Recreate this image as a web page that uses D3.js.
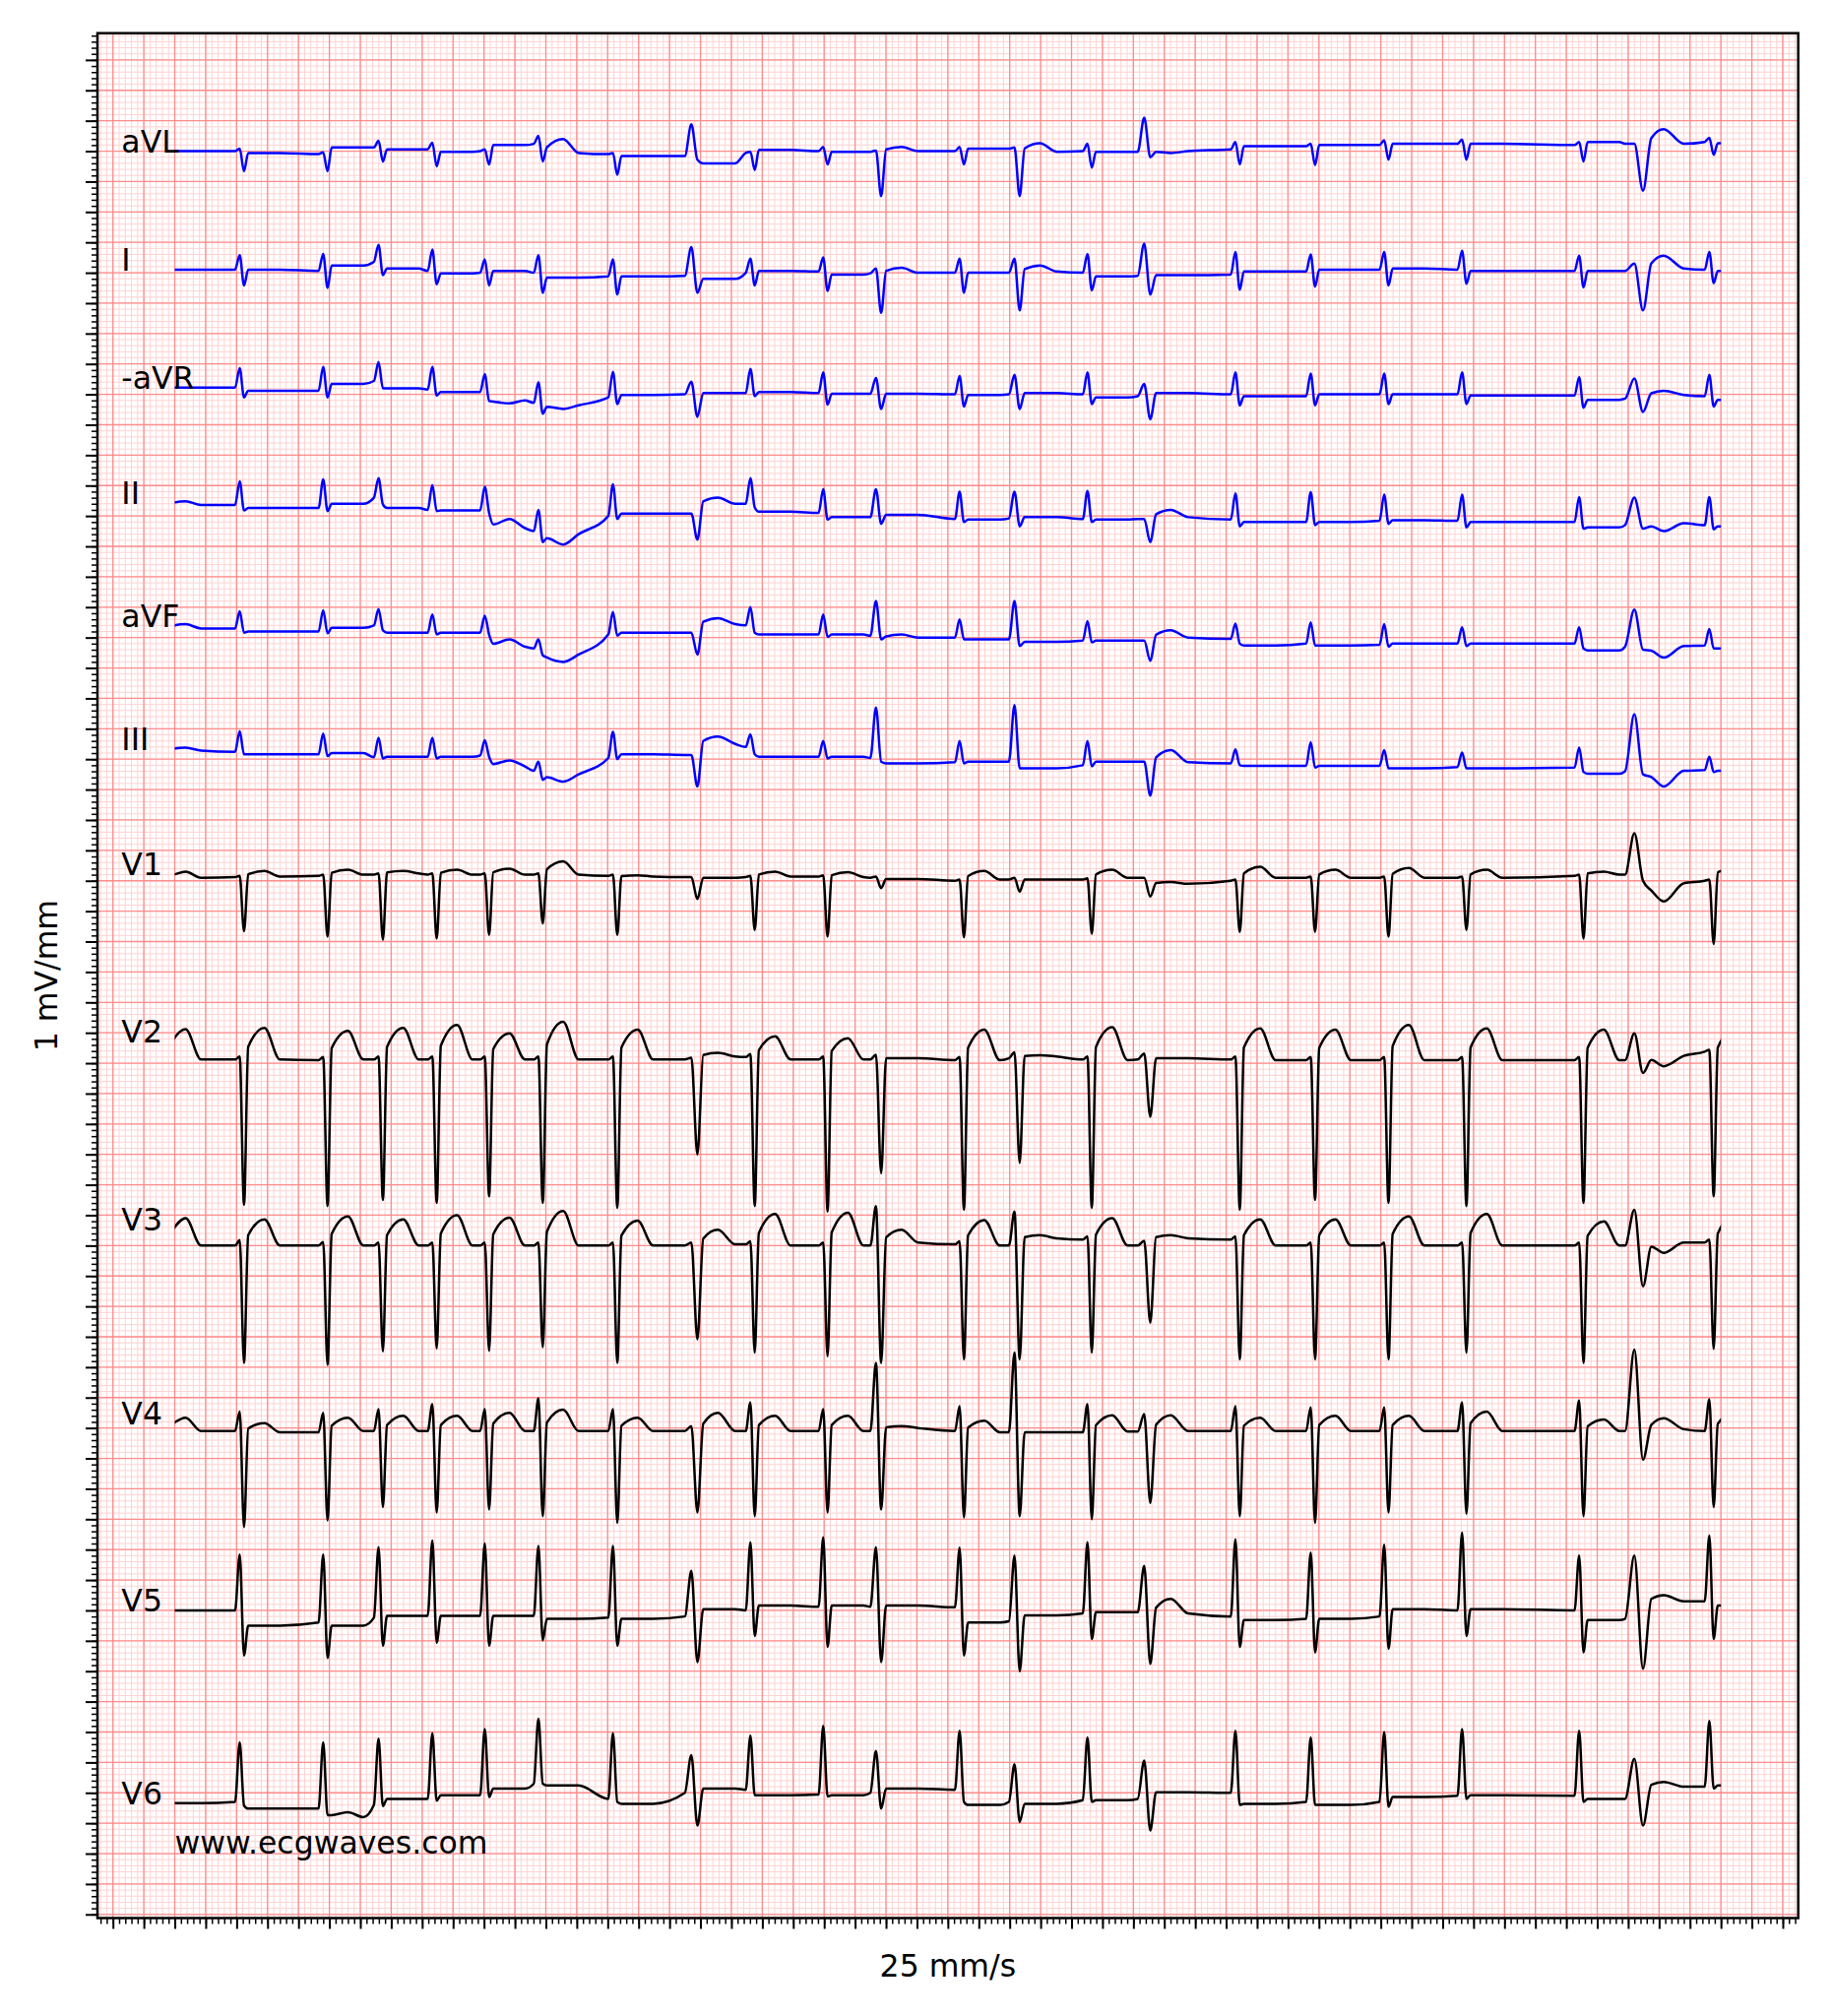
<!DOCTYPE html>
<html>
<head>
<meta charset="utf-8">
<script src="https://cdn.jsdelivr.net/npm/d3@7"></script>
<style>
  body { margin: 0; background: #fff; }
  text { font-family: "DejaVu Sans", sans-serif; fill: #000; }
</style>
</head>
<body>
<div id="chart"></div>
<script>
const beatTimes = [-0.09, 0.42, 0.96, 1.318, 1.666, 2.005, 2.352, 2.834, 3.341, 3.723, 4.194,
  4.535, 5.076, 5.431, 5.903, 6.27, 6.86, 7.347, 7.822, 8.326, 9.083, 9.44, 9.925];
// QRS width factor per beat (aberrant and ventricular beats are wider)
const beatWidths = [1, 1, 1, 1, 1, 1, 1, 1, 1.4, 1, 1, 1.2, 1, 1.2, 1, 1.4, 1, 1, 1, 1, 1, 2, 1];

const leadNames = ['aVL', 'I', '-aVR', 'II', 'aVF', 'III', 'V1', 'V2', 'V3', 'V4', 'V5', 'V6'];

// per beat: [baseline before, R, S, T, baseline after] in mV
const beatsAVL = [[0,0,0,0,0],[0,0.04,-0.33,0,-0.03],[-0.05,0.03,-0.28,0,0.06],[0.06,0.11,-0.23,0,0.03],
  [0.03,0.11,-0.28,0,-0.01],[0,0.03,-0.22,0,0.1],[0.12,0.13,-0.29,0.23,-0.03],[-0.05,0.02,-0.34,0,-0.08],
  [-0.08,0.52,-0.06,0,-0.2],[-0.03,0.02,-0.28,0,0.02],[0,0.07,-0.22,0,-0.01],[-0.01,0.02,-0.73,0.07,0],
  [0,0.07,-0.22,0,0.04],[0.04,0.02,-0.78,0.14,-0.01],[0,0.12,-0.27,0,-0.01],[-0.01,0.56,-0.09,-0.03,0],
  [0.03,0.12,-0.25,0,0.08],[0.08,0.04,-0.31,0,0.1],[0.1,0.08,-0.24,0,0.12],[0.12,0.07,-0.26,0,0.12],
  [0.1,0.05,-0.27,0,0.15],[0.12,0,-0.77,0.24,0.12],[0.15,0.07,-0.21,0,0.13]];
const beatsI = [[0.05,0,0,0,0.05],[0.05,0.24,-0.26,0,0.05],[0.03,0.28,-0.28,0,0.12],[0.18,0.28,-0.22,0,0.07],
  [0.03,0.35,-0.22,0,-0.01],[0,0.22,-0.21,0,0.03],[0,0.29,-0.33,0,-0.08],[-0.06,0.28,-0.3,0,-0.06],
  [-0.05,0.47,-0.28,0,-0.1],[0,0.23,-0.21,0,0.03],[0.02,0.23,-0.32,0,-0.03],[-0.01,0.08,-0.65,0.08,0],
  [0,0.23,-0.33,0,0],[0,0.23,-0.62,0.1,0.02],[0,0.31,-0.29,0,-0.06],[-0.05,0.53,-0.31,0,-0.04],
  [-0.03,0.37,-0.25,0,0.02],[0.02,0.28,-0.25,0,0.05],[0.05,0.29,-0.26,0,0.07],[0.05,0.31,-0.23,0,0.03],
  [0.03,0.25,-0.27,0,0.03],[0.03,0.12,-0.65,0.21,0.07],[0.05,0.29,-0.22,0,0.03]];
const beatsNegAVR = [[0.12,0,0,0,0.11],[0.11,0.32,-0.16,0,0.06],[0.06,0.39,-0.11,0,0.17],[0.22,0.31,-0.12,0,0.1],
  [0.08,0.37,-0.1,0,0.04],[0.04,0.29,-0.15,-0.05,-0.1],[-0.14,0.34,-0.18,-0.06,-0.18],[-0.05,0.42,-0.11,0,-0.01],
  [0,0.21,-0.37,0,0.02],[0.02,0.4,-0.05,0,0.04],[0.02,0.34,-0.19,0,0.01],[0.01,0.26,-0.25,0,0.01],
  [0,0.3,-0.2,0,-0.01],[0,0.32,-0.24,0,0.02],[0,0.36,-0.16,0,-0.05],[-0.03,0.2,-0.38,0,0.02],
  [0,0.36,-0.18,0,-0.03],[-0.03,0.37,-0.15,0,0],[0,0.34,-0.16,0,0],[0,0.36,-0.16,0,-0.02],
  [-0.02,0.3,-0.2,0,-0.09],[-0.07,0.33,-0.22,0.07,-0.01],[-0.03,0.35,-0.17,0,-0.09]];
const beatsII = [[0.13,0,0,0.06,0.18],[0.18,0.39,-0.09,0,0.13],[0.13,0.47,-0.05,0,0.2],[0.3,0.32,-0.11,0,0.13],
  [0.1,0.41,-0.02,0,0.09],[0.09,0.39,-0.04,0.15,-0.2],[-0.25,0.35,-0.18,-0.17,-0.3],[0,0.52,-0.05,0,0.04],
  [0.04,0,-0.43,0.1,0.2],[0.2,0.42,-0.06,0,0.07],[0.05,0.39,-0.11,0,-0.02],[-0.02,0.46,-0.11,0,0.02],
  [-0.05,0.45,-0.05,0,-0.06],[-0.04,0.44,-0.13,0,-0.02],[-0.05,0.46,-0.05,0,-0.06],[-0.05,0,-0.38,0.12,-0.02],
  [-0.06,0.43,-0.11,0,-0.1],[-0.1,0.49,-0.05,0,-0.1],[-0.08,0.43,-0.05,0,-0.07],[-0.08,0.43,-0.11,0,-0.1],
  [-0.1,0.41,-0.11,0,-0.19],[-0.15,0.45,-0.06,-0.13,-0.12],[-0.15,0.46,-0.07,0,-0.17]];
const beatsAVF = [[0.12,0,0,0.07,0.15],[0.15,0.28,-0.07,0,0.1],[0.1,0.35,-0.03,0,0.16],[0.2,0.27,-0.08,0,0.08],
  [0.08,0.3,-0.03,0,0.08],[0.08,0.28,-0.03,0.12,-0.15],[-0.18,0.15,-0.11,-0.12,-0.28],[0.05,0.37,-0.02,0,0.08],
  [0.08,0,-0.36,0.1,0.22],[0.2,0.3,-0.12,0,0.05],[0.05,0.33,-0.04,0,0.05],[0.03,0.57,-0.06,0.05,0],
  [0,0.3,-0.03,0,-0.03],[-0.03,0.63,-0.11,0,-0.07],[-0.05,0.32,-0.03,0,-0.05],[-0.05,0,-0.33,0.12,0],
  [-0.02,0.25,-0.08,0,-0.13],[-0.1,0.35,-0.03,0,-0.13],[-0.12,0.34,-0.03,0,-0.1],[-0.1,0.27,-0.04,0,-0.1],
  [-0.1,0.27,-0.08,0,-0.21],[-0.15,0.61,-0.05,-0.19,-0.14],[-0.13,0.27,-0.05,0,-0.18]];
const beatsIII = [[0.11,0,0,0.05,0.14],[0.12,0.34,-0.04,0,0.08],[0.08,0.34,-0.03,0,0.1],[0.03,0.32,-0.02,0,0.04],
  [0.04,0.31,-0.03,0,0.04],[0.06,0.25,-0.02,0.1,-0.12],[-0.19,0.15,-0.15,-0.12,-0.25],[0.02,0.43,-0.02,0,0.08],
  [0.07,0,-0.52,0.12,0.25],[0.2,0.21,-0.12,0,0.04],[0.04,0.26,-0.03,0,0.04],[0.02,0.83,-0.06,0,-0.07],
  [-0.05,0.35,-0.02,0,-0.04],[-0.04,0.93,-0.11,0,-0.15],[-0.1,0.4,-0.02,0,-0.04],[-0.04,0,-0.56,0.2,-0.05],
  [-0.07,0.23,-0.03,0,-0.11],[-0.11,0.39,-0.03,0,-0.11],[-0.11,0.26,-0.04,0,-0.15],[-0.13,0.24,-0.02,0,-0.15],
  [-0.14,0.33,-0.07,0,-0.24],[-0.2,0.94,-0.05,-0.26,-0.19],[-0.18,0.22,-0.03,0,-0.19]];
const beatsV1 = [[0.12,0,0,0.1,0.05],[0.06,0.02,-0.89,0.09,0.07],[0.08,0.02,-1,0.08,0.1],[0.1,0.02,-1.07,0.04,0.12],
  [0.1,0.02,-1.05,0.08,0.1],[0.1,0.02,-0.99,0.1,0.1],[0.1,0.02,-0.8,0.22,0.1],[0.08,0.02,-0.97,0.02,0.07],
  [0.06,0,-0.36,0,0.05],[0.06,0.02,-0.87,0.08,0.07],[0.07,0.02,-0.99,0.08,0.06],[0.05,0.02,-0.17,0,0.03],
  [0,0.02,-0.93,0.14,0.02],[0.02,0.03,-0.2,0,0.02],[0.02,0.02,-0.89,0.13,0.05],[0.05,0,-0.31,0.03,-0.05],
  [0,0.02,-0.84,0.18,0.05],[0.05,0.02,-0.89,0.13,0.05],[0.05,0.02,-0.97,0.16,0.05],[0.05,0.02,-0.86,0.13,0.05],
  [0.08,0.02,-1.03,0.05,0.1],[0.1,0.68,-0.1,-0.3,-0.04],[0,0.02,-1.04,0.1,0.1]];
const beatsV2 = [[0.1,0,0,0.5,0.06],[0.06,0.05,-2.39,0.52,0.06],[0.05,0.05,-2.4,0.47,0.06],[0.06,0.05,-2.31,0.52,0.06],
  [0.06,0.05,-2.36,0.57,0.06],[0.06,0.05,-2.25,0.43,0.06],[0.06,0.05,-2.36,0.62,0.06],[0.06,0.05,-2.44,0.49,0.06],
  [0.06,0.03,-1.56,0.06,0.11],[0.1,0.05,-2.45,0.38,0.06],[0.06,0.05,-2.5,0.35,0.06],[0.06,0.08,-1.87,0,0.08],
  [0.05,0.05,-2.46,0.5,0.05],[0.08,0.1,-1.72,0.02,0.11],[0.06,0.05,-2.44,0.54,0.05],[0.06,0.1,-0.94,0,0.08],
  [0.06,0.05,-2.47,0.52,0.05],[0.05,0.05,-2.3,0.5,0.05],[0.05,0.05,-2.35,0.58,0.05],[0.05,0.05,-2.4,0.52,0.05],
  [0.05,0.05,-2.35,0.5,0.05],[0.05,0.44,-0.21,-0.17,0.12],[0.19,0.03,-2.38,0.5,0.06]];
const beatsV3 = [[0.08,0,0,0.45,0],[0,0.09,-1.93,0.43,0],[0,0.06,-1.96,0.48,0],[0,0.05,-1.74,0.43,0],
  [0,0.05,-1.69,0.5,0],[0,0.05,-1.73,0.46,0],[0,0.05,-1.67,0.57,0],[0,0.05,-1.93,0.41,0],
  [0,0.05,-1.54,0.24,0.02],[0.02,0.05,-1.78,0.52,0],[0,0.05,-1.82,0.54,0],[0,0.65,-1.93,0.21,0.05],
  [0.02,0.05,-1.89,0.42,0],[0,0.56,-1.87,0.05,0.12],[0.1,0.05,-1.86,0.45,0],[0,0.08,-1.27,0.05,0.12],
  [0.1,0.05,-1.97,0.43,0],[0,0.05,-1.87,0.43,0],[0,0.05,-1.87,0.48,0],[0,0.05,-1.76,0.52,0],
  [0,0.05,-1.93,0.4,0],[0,0.59,-0.67,-0.17,0.05],[0.05,0.05,-1.75,0.5,0]];
const beatsV4 = [[0,0,0,0.22,-0.05],[-0.05,0.32,-1.58,0.15,-0.07],[-0.07,0.32,-1.45,0.22,-0.05],[-0.05,0.36,-1.25,0.25,-0.05],
  [-0.05,0.44,-1.34,0.25,-0.05],[-0.05,0.36,-1.29,0.3,-0.05],[-0.05,0.54,-1.4,0.35,-0.05],[-0.05,0.36,-1.51,0.22,-0.05],
  [-0.05,0.08,-1.34,0.3,-0.05],[-0.05,0.47,-1.4,0.25,-0.05],[-0.05,0.36,-1.34,0.25,-0.05],[-0.05,1.12,-1.29,0.03,0],
  [-0.05,0.41,-1.42,0.19,-0.07],[-0.07,1.31,-1.38,0,-0.07],[-0.07,0.46,-1.43,0.27,-0.06],[-0.06,0.29,-1.17,0.26,-0.05],
  [-0.05,0.41,-1.4,0.22,-0.05],[-0.05,0.39,-1.51,0.25,-0.05],[-0.05,0.39,-1.34,0.25,-0.05],[-0.05,0.47,-1.36,0.32,-0.05],
  [-0.05,0.5,-1.4,0.19,-0.05],[-0.05,1.34,-0.47,0.18,-0.02],[-0.05,0.52,-1.25,0.3,-0.05]];
const beatsV5 = [[0,0,0,0,0],[0,0.92,-0.74,0,-0.25],[-0.2,1.12,-0.58,0,-0.25],[-0.12,1.16,-0.46,0,-0.09],
  [-0.09,1.24,-0.44,0,-0.09],[-0.09,1.19,-0.49,0,-0.09],[-0.09,1.15,-0.4,0,-0.14],[-0.12,1.18,-0.46,0,-0.14],
  [-0.1,0.75,-0.75,0,0.02],[0,1.12,-0.42,0,0.08],[0.06,1.14,-0.66,0,0.08],[0.06,0.98,-0.91,0,0.08],
  [0.05,0.98,-0.79,0,-0.2],[-0.18,1.08,-0.82,0,-0.08],[-0.05,1.17,-0.42,0,-0.03],[-0.03,0.76,-0.85,0.24,-0.05],
  [-0.1,1.27,-0.5,0,-0.16],[-0.14,1.09,-0.55,0,-0.14],[-0.1,1.18,-0.53,0,0.02],[0,1.28,-0.42,0,0.02],
  [0,0.9,-0.69,0,-0.16],[-0.14,1.04,-0.82,0.1,0.15],[0.15,1.08,-0.62,0,0.08]];
const beatsV6 = [[-0.24,0,0,0,-0.17],[-0.15,0.98,-0.06,0,-0.26],[-0.26,1.09,-0.11,0.08,-0.4],[-0.2,1.09,-0.02,0,-0.1],
  [-0.1,1.08,-0.03,0,-0.04],[-0.04,1.09,-0.03,0,0.07],[0.15,1.07,0,0,0.12],[-0.1,1.08,-0.05,0,-0.18],
  [0,0.62,-0.54,0,0.07],[0.05,0.89,-0.09,0,-0.04],[-0.03,1.13,-0.03,0,-0.04],[0,0.69,-0.26,0,0.07],
  [0.05,0.97,-0.2,0,-0.2],[-0.15,0.62,-0.33,0,-0.18],[-0.12,1.03,-0.03,0,-0.12],[-0.1,0.63,-0.52,0,0.01],
  [0,1.02,-0.2,0,-0.18],[-0.15,1.06,-0.05,0,-0.2],[-0.15,1.15,-0.08,0,-0.07],[-0.05,1.1,-0.05,0,-0.04],
  [-0.05,1.07,-0.1,0,-0.1],[-0.1,0.66,-0.44,0.08,0.1],[0.1,1.08,-0.03,0,0.12]];

const leadBeats = [beatsAVL, beatsI, beatsNegAVR, beatsII, beatsAVF, beatsIII,
  beatsV1, beatsV2, beatsV3, beatsV4, beatsV5, beatsV6];

// layout
const W = 1861, H = 2048;
const leadOffsets = [29, 27, 25, 23, 21, 19, 17, 14, 11, 8, 5, 2];
const x = d3.scaleLinear().domain([-0.5, 10.5]).range([99, 1826.7]);
const y = d3.scaleLinear().domain([-0.06, 30.94]).range([1948.5, 33.7]);
const fontSize = '31.5px';

const svg = d3.select('#chart').append('svg')
    .attr('width', W)
    .attr('height', H);

// grid
const minorX = d3.range(-12, 263).map(i => i * 0.04);
const majorX = d3.range(-2, 53).map(i => i * 0.2);
const minorY = d3.range(0, 310).map(i => i * 0.1);
const majorY = d3.range(0, 62).map(i => i * 0.5);

const grid = svg.append('g');
function gridLines(xs, ys, color, w) {
    grid.append('g').selectAll('line').data(xs).enter().append('line')
        .attr('x1', d => x(d)).attr('x2', d => x(d))
        .attr('y1', y.range()[0]).attr('y2', y.range()[1])
        .attr('stroke', color).attr('stroke-width', w);
    grid.append('g').selectAll('line').data(ys).enter().append('line')
        .attr('y1', d => y(d)).attr('y2', d => y(d))
        .attr('x1', x.range()[0]).attr('x2', x.range()[1])
        .attr('stroke', color).attr('stroke-width', w);
}
gridLines(minorX, minorY, '#ffd2d2', 1);
gridLines(majorX, majorY, '#ff8c8c', 1.3);

// traces
svg.append('clipPath').attr('id', 'strip')
  .append('rect')
    .attr('x', x(0)).attr('width', x(10) - x(0))
    .attr('y', 0).attr('height', H);

function beatKnots(rows) {
    const pts = [];
    rows.forEach(([pre, r, s, t, post], i) => {
        const tb = beatTimes[i], w = beatWidths[i];
        pts.push([tb - 0.03 * w, pre], [tb, pre + r], [tb + 0.028 * w, pre + s],
            [tb + 0.055 * w, post + 0.4 * t], [tb + 0.13 + 0.03 * w, post + t],
            [tb + 0.2 + 0.06 * w, post]);
    });
    return pts;
}

function valueAt(pts, t) {
    for (let i = 1; i < pts.length; i++) {
        if (pts[i][0] >= t) {
            const a = pts[i - 1], b = pts[i];
            return a[1] + (b[1] - a[1]) * (t - a[0]) / (b[0] - a[0]);
        }
    }
    return pts[pts.length - 1][1];
}

const traces = svg.append('g').attr('clip-path', 'url(#strip)');
const labels = svg.append('g');

leadNames.forEach((name, k) => {
    const off = leadOffsets[k];
    const pts = beatKnots(leadBeats[k]);
    const line = d3.line()
        .x(d => x(d[0]))
        .y(d => y(d[1] + off))
        .curve(d3.curveMonotoneX);

    traces.append('path')
        .datum(pts)
        .attr('d', line)
        .attr('fill', 'none')
        .attr('stroke', k < 6 ? '#0000ff' : '#000000')
        .attr('stroke-width', 2.5)
        .attr('stroke-linejoin', 'round');

    labels.append('text')
        .attr('x', x(-0.345))
        .attr('y', y(valueAt(pts, 0) + off) + 1)
        .style('font-size', fontSize)
        .text(name);
});

svg.append('text')
    .attr('x', x(0))
    .attr('y', y(1.0))
    .style('font-size', fontSize)
    .text('www.ecgwaves.com');

// axes (ticks only)
function tickAxis(axis, values, size, sw, transform) {
    const g = svg.append('g')
        .attr('transform', transform)
        .call(axis.tickValues(values).tickSize(size).tickSizeOuter(0).tickFormat(''));
    g.select('.domain').remove();
    g.selectAll('.tick line').attr('stroke', '#000').attr('stroke-width', sw);
}
tickAxis(d3.axisLeft(y), minorY, 6, 1.5, `translate(${x.range()[0]},0)`);
tickAxis(d3.axisLeft(y), majorY, 12, 2, `translate(${x.range()[0]},0)`);
tickAxis(d3.axisBottom(x), minorX, 6, 1.5, `translate(0,${y.range()[0]})`);
tickAxis(d3.axisBottom(x), majorX, 11, 2, `translate(0,${y.range()[0]})`);

// frame
svg.append('rect')
    .attr('x', x.range()[0]).attr('y', y.range()[1])
    .attr('width', x.range()[1] - x.range()[0])
    .attr('height', y.range()[0] - y.range()[1])
    .attr('fill', 'none')
    .attr('stroke', '#000')
    .attr('stroke-width', 2.5);

// axis labels
svg.append('text')
    .attr('x', (x.range()[0] + x.range()[1]) / 2)
    .attr('y', 2008)
    .attr('text-anchor', 'middle')
    .style('font-size', fontSize)
    .text('25 mm/s');

svg.append('text')
    .attr('transform', `translate(58,${(y.range()[0] + y.range()[1]) / 2}) rotate(-90)`)
    .attr('text-anchor', 'middle')
    .style('font-size', fontSize)
    .text('1 mV/mm');
</script>
</body>
</html>
